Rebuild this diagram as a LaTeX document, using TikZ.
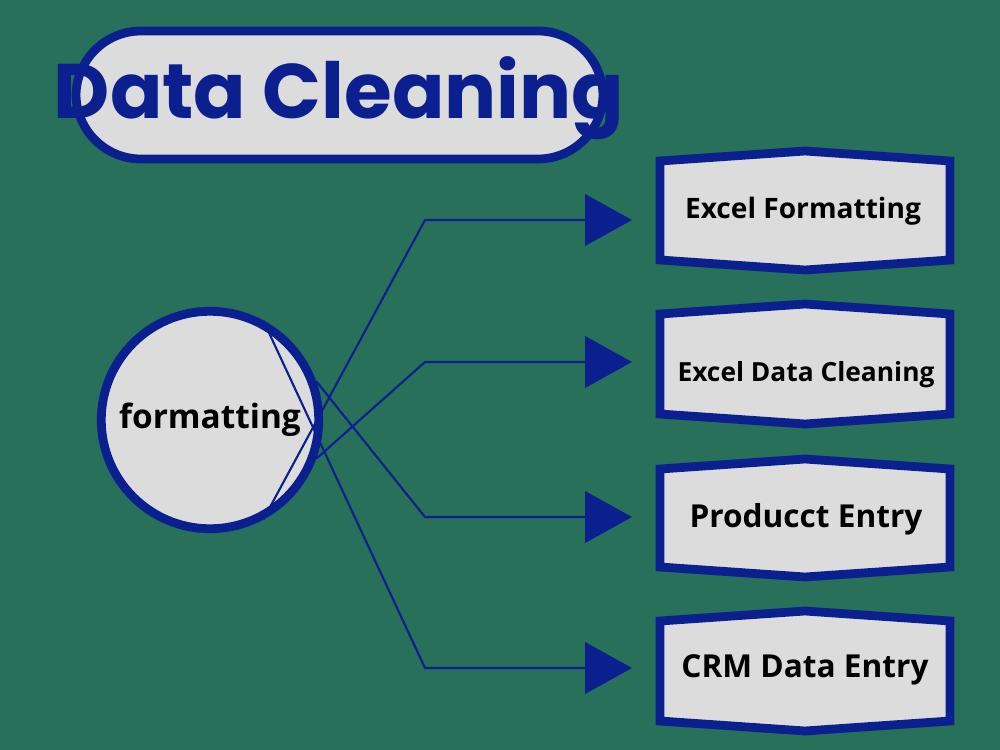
\documentclass[tikz,border=0pt]{standalone}
\usepackage{fontspec}
\setmainfont{Open Sans}
\newfontfamily\titlefont{Poppins}
\usetikzlibrary{positioning,calc}
\definecolor{bggreen}{HTML}{287059}
\definecolor{navy}{HTML}{0B1F8F}
\definecolor{boxgray}{HTML}{DCDCDC}
\tikzset{
  link/.style={navy, line width=1.2pt},
  tip/.style={fill=navy, draw=none},
  boxlabel/.style={font=\bfseries\fontsize{#1}{#1}\selectfont, text=black}
}
% hexagon-like box: top corner y, peak etc
\newcommand{\stepshape}[2]{%
  \draw[navy, line width=5pt, fill=boxgray, line join=miter]
    (660,#1+10) -- (805,#1) -- (950,#1+10) -- (950,#2-10) -- (805,#2) -- (660,#2-10) -- cycle;}

\begin{document}
\begin{tikzpicture}[x=0.02cm, y=-0.02cm]
  \fill[bggreen] (0,0) rectangle (1000,750);
  \useasboundingbox (0,0) rectangle (1000,750);

  % title
  \draw[navy, line width=5pt, fill=boxgray, rounded corners=1.3cm]
    (76,31) rectangle (603,159);
  \node[text=navy, font=\titlefont\bfseries\fontsize{44}{44}\selectfont] (title) at (339,98) {Data Cleaning};

  % center circle
  \node[circle, draw=navy, line width=5pt, fill=boxgray, minimum size=4.35cm,
        font=\bfseries\fontsize{19}{19}\selectfont] (hub) at (210,420) {formatting};

  % boxes
  \stepshape{151}{270}
  \stepshape{304}{424}
  \stepshape{459}{577}
  \stepshape{611}{731}
  \node[boxlabel=16] (fmt) at (803,211) {Excel Formatting};
  \node[boxlabel=15] (clean) at (806,375) {Excel Data Cleaning};
  \node[boxlabel=18] (prod) at (806,519) {Producct Entry};
  \node[boxlabel=18] (crm) at (805,670) {CRM Data Entry};

  % connectors
  \foreach \name/\y/\a in {fmt/220/-62, clean/362/-20, prod/517/20, crm/668/62}{
    \coordinate (bend-\name) at (425,\y);
    \coordinate (end-\name) at (588,\y);
    \draw[link] (hub.\a) -- (bend-\name) -- (end-\name);
    \fill[tip] (585,\y-26) -- (632,\y) -- (585,\y+26) -- cycle;
  }
\end{tikzpicture}
\end{document}
